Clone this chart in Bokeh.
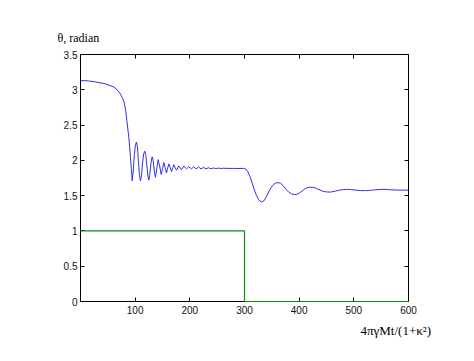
from bokeh.plotting import figure
from bokeh.models import LinearAxis, FixedTicker, Range1d, Title
from bokeh.embed import file_html
from bokeh.resources import INLINE

# ---- data ----
t_theta = [0, 6, 15, 25, 35, 43, 52, 61, 67, 73, 77, 80, 82.5, 85, 87, 88.5, 90, 91.5, 93, 94.5,
           96.5, 98.5, 100.5, 102.4, 104.3, 106, 108, 109.7, 111.5, 113.5, 115.5, 117.6, 119.5,
           121.5, 123.3, 125, 126.8, 128.8, 131, 133, 135, 137, 139.5, 142, 144.8, 147.6, 150,
           152.4, 154.8, 157.3, 159.5, 161.6, 164, 166.5, 168.6, 170.7, 173, 175.6, 179.8, 184.7,
           189, 193.9, 198, 203, 207, 211.5, 216, 220.5, 225, 229.5, 234, 238.5, 243, 247.5, 252,
           256.5, 261, 270, 280, 290, 298, 302,
           306, 310, 314, 318, 322, 326, 331, 336, 341, 346, 351, 356, 361, 366, 371, 376, 381,
           386, 391, 396, 401, 406, 411, 416, 421, 427, 432, 438, 444, 450, 457, 464, 472, 480,
           488, 496, 504, 512, 521, 530, 540, 548, 555, 564, 575, 588, 600]
theta = [3.13, 3.13, 3.125, 3.115, 3.10, 3.09, 3.065, 3.04, 3.00, 2.94, 2.88, 2.82, 2.71, 2.55,
         2.42, 2.32, 2.18, 2.04, 1.88, 1.71,
         1.85, 2.08, 2.22, 2.26, 2.18, 1.98, 1.78, 1.71, 1.78, 1.96, 2.09, 2.13, 2.07,
         1.92, 1.78, 1.72, 1.80, 1.96, 2.05, 2.00, 1.85, 1.76, 1.88, 2.01, 1.92, 1.80, 1.88,
         1.97, 1.90, 1.82, 1.89, 1.95, 1.90, 1.84, 1.89, 1.94, 1.90, 1.86, 1.92, 1.87,
         1.92, 1.88, 1.91, 1.88, 1.91, 1.88, 1.905, 1.88, 1.90, 1.88, 1.895, 1.882, 1.892, 1.884, 1.89,
         1.885, 1.888, 1.886, 1.886, 1.885, 1.886, 1.88,
         1.84, 1.77, 1.68, 1.58, 1.50, 1.44, 1.41, 1.43, 1.50, 1.58, 1.64, 1.675, 1.685, 1.675, 1.64,
         1.59, 1.55, 1.525, 1.515, 1.52, 1.54, 1.57, 1.60, 1.615, 1.62, 1.615, 1.60, 1.58, 1.56,
         1.553, 1.55, 1.56, 1.575, 1.585, 1.59, 1.585, 1.578, 1.572, 1.57, 1.575, 1.583, 1.588,
         1.59, 1.585, 1.58, 1.578, 1.578]

t_step = [0, 300, 300, 600]
step = [1, 1, 0, 0]

x_ticks = [0, 100, 200, 300, 400, 500, 600]
y_ticks = [0, 0.5, 1, 1.5, 2, 2.5, 3, 3.5]
y_tick_labels = {0: "0", 0.5: "0.5", 1: "1", 1.5: "1.5", 2: "2", 2.5: "2.5", 3: "3", 3.5: "3.5"}
x_tick_labels = {0: "", 100: "100", 200: "200", 300: "300", 400: "400", 500: "500", 600: "600"}
y_title = "θ, radian"
x_title = "4πγMt/(1+κ²)"

p = figure(width=474, height=361, output_backend="svg", toolbar_location=None,
           x_range=Range1d(0, 600), y_range=Range1d(0, 3.5),
           min_border_left=80, min_border_right=66, min_border_top=54, min_border_bottom=60)
p.background_fill_color = "white"
p.border_fill_color = "white"
p.outline_line_color = "black"
p.outline_line_width = 1
p.xgrid.visible = False
p.ygrid.visible = False

p.line(t_theta, theta, line_color="#3030ee", line_width=1)
gr = p.line(t_step, step, line_color="#0a8a0a", line_width=1.2)
gr.level = "overlay"

def style(ax, ticks, labels, show):
    ax.ticker = FixedTicker(ticks=ticks)
    ax.major_label_overrides = {k: v for k, v in labels.items()}
    ax.major_tick_in = 4
    ax.major_tick_out = 0
    ax.minor_tick_in = 0
    ax.minor_tick_out = 0
    ax.axis_line_color = "black"
    ax.major_tick_line_color = "black"
    ax.major_label_text_font = "Liberation Sans"
    if show:
        ax.major_label_text_font_size = "10px"
        ax.major_label_text_color = "#111111"
    else:
        ax.major_label_text_font_size = "0px"
        ax.major_label_text_color = None
        ax.major_label_standoff = 0

xa = p.xaxis[0]
style(xa, x_ticks, x_tick_labels, True)
xa.major_label_standoff = 4
ya = p.yaxis[0]
style(ya, y_ticks, y_tick_labels, True)
ya.major_label_standoff = 3

top = LinearAxis()
style(top, x_ticks, x_tick_labels, False)
p.add_layout(top, "above")
right = LinearAxis()
style(right, y_ticks, y_tick_labels, False)
p.add_layout(right, "right")

serif = "Liberation Serif"
p.add_layout(Title(text=y_title, align="left", offset=-23, text_font=serif,
                   text_font_size="12px", text_font_style="normal", text_color="black",
                   standoff=20), "above")
p.add_layout(Title(text=x_title, align="left", offset=280, text_font=serif,
                   text_font_size="13px", text_font_style="normal", text_color="black",
                   standoff=9), "below")

open("out.html", "w").write(file_html(p, INLINE))
